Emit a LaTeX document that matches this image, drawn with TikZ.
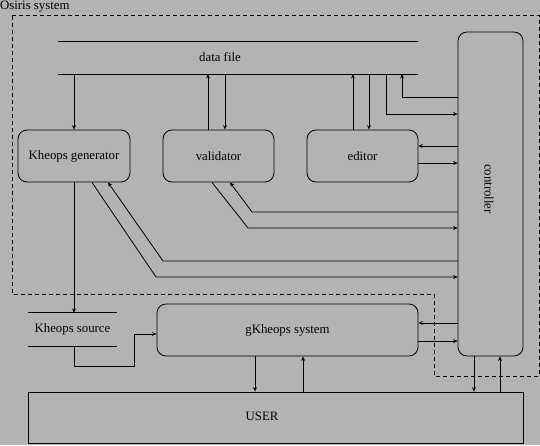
\documentclass[tikz,border=0pt]{standalone}
\usepackage{fontspec}
\setmainfont{Liberation Serif}
\usetikzlibrary{arrows.meta}
\begin{document}
\begin{tikzpicture}[x=1pt,y=-1pt,
  every node/.style={font=\fontsize{12.8}{14}\selectfont},
  ln/.style={line width=0.8pt},
  ar/.style={ln,-{Stealth[length=4.5pt,width=4pt,inset=1.5pt]}},
  rbox/.style={draw,line width=0.8pt,rounded corners=9pt,inner sep=0pt},
  dsh/.style={line width=0.7pt,dash pattern=on 4pt off 3pt}]
\useasboundingbox[fill={rgb,255:red,179;green,179;blue,179}] (0,0) rectangle (540,445);
% Osiris boundary
\draw[dsh] (12,15) -- (539,15) -- (539,376) -- (434,376) -- (434,294) -- (12,294) -- cycle;
\node[anchor=base west,inner sep=0pt] (osl) at (0,9.5) {Osiris system};
% data file
\coordinate (dft) at (58,41);
\coordinate (dfb) at (58,74);
\draw[ln] (dft) -- (418,41);
\draw[ln] (dfb) -- (418,74);
\node (dfl) at (220,57.5) {data file};
% boxes
\node[rbox,minimum width=112pt,minimum height=52pt] (kg) at (74,156) {Kheops generator};
\node[rbox,minimum width=111pt,minimum height=52pt] (val) at (218.5,156) {validator};
\node[rbox,minimum width=111pt,minimum height=52pt] (ed) at (362.5,156) {editor};
\node[rbox,minimum width=65pt,minimum height=324pt] (ctrl) at (490.5,194) {};
\node[rotate=-90] (ctrll) at (489,189) {controller};
\node[rbox,minimum width=261pt,minimum height=52pt] (gk) at (287.5,330) {gKheops system};
\node[draw,line width=0.8pt,minimum width=495pt,minimum height=51pt,inner sep=0pt] (user) at (275.5,417.5) {};
\node (userl) at (262,416) {USER};
% Kheops source
\node[minimum width=89pt,minimum height=33pt,inner sep=0pt] (ks) at (72.5,329.5) {Kheops source};
\draw[ln] (ks.north west) -- (ks.north east);
\draw[ln] (ks.south west) -- (ks.south east);
% data file connections
\draw[ar] (kg.north |- dfb) -- (kg.north);
\draw[ar] (208,0 |- val.north) -- (208,0 |- dfb);
\draw[ar] (225,0 |- dfb) -- (225,0 |- val.north);
\draw[ar] (353,0 |- ed.north) -- (353,0 |- dfb);
\draw[ar] (369,0 |- dfb) -- (369,0 |- ed.north);
\draw[ar] (ctrl.west |- 0,97) -| (402,0 |- dfb);
\draw[ar] (386,0 |- dfb) |- (ctrl.west |- 0,114);
% editor
\draw[ar] (ctrl.west |- 0,146) -- (ed.east |- 0,146);
\draw[ar] (ed.east |- 0,163) -- (ctrl.west |- 0,163);
% validator
\draw[ar] (ctrl.west |- 0,212) -- (252,212) -- (230,0 |- val.south);
\draw[ar] (212,0 |- val.south) -- (248,228) -- (ctrl.west |- 0,228);
% Kheops generator
\draw[ar] (ctrl.west |- 0,261) -- (163,261) -- (108,0 |- kg.south);
\draw[ar] (92,0 |- kg.south) -- (156,277) -- (ctrl.west |- 0,277);
\draw[ar] (kg.south) -- (kg.south |- ks.north);
% Kheops source to gKheops
\draw[ar] (kg.south |- ks.south) |- (134,366) |- (gk.west |- 0,334);
% gKheops and controller
\draw[ar] (ctrl.west |- 0,323) -- (gk.east |- 0,323);
\draw[ar] (gk.east |- 0,341) -- (ctrl.west |- 0,341);
% user
\draw[ar] (255,0 |- gk.south) -- (255,0 |- user.north);
\draw[ar] (303,0 |- user.north) -- (303,0 |- gk.south);
\draw[ar] (474,0 |- ctrl.south) -- (474,0 |- user.north);
\draw[ar] (500,0 |- user.north) -- (500,0 |- ctrl.south);
\end{tikzpicture}
\end{document}
